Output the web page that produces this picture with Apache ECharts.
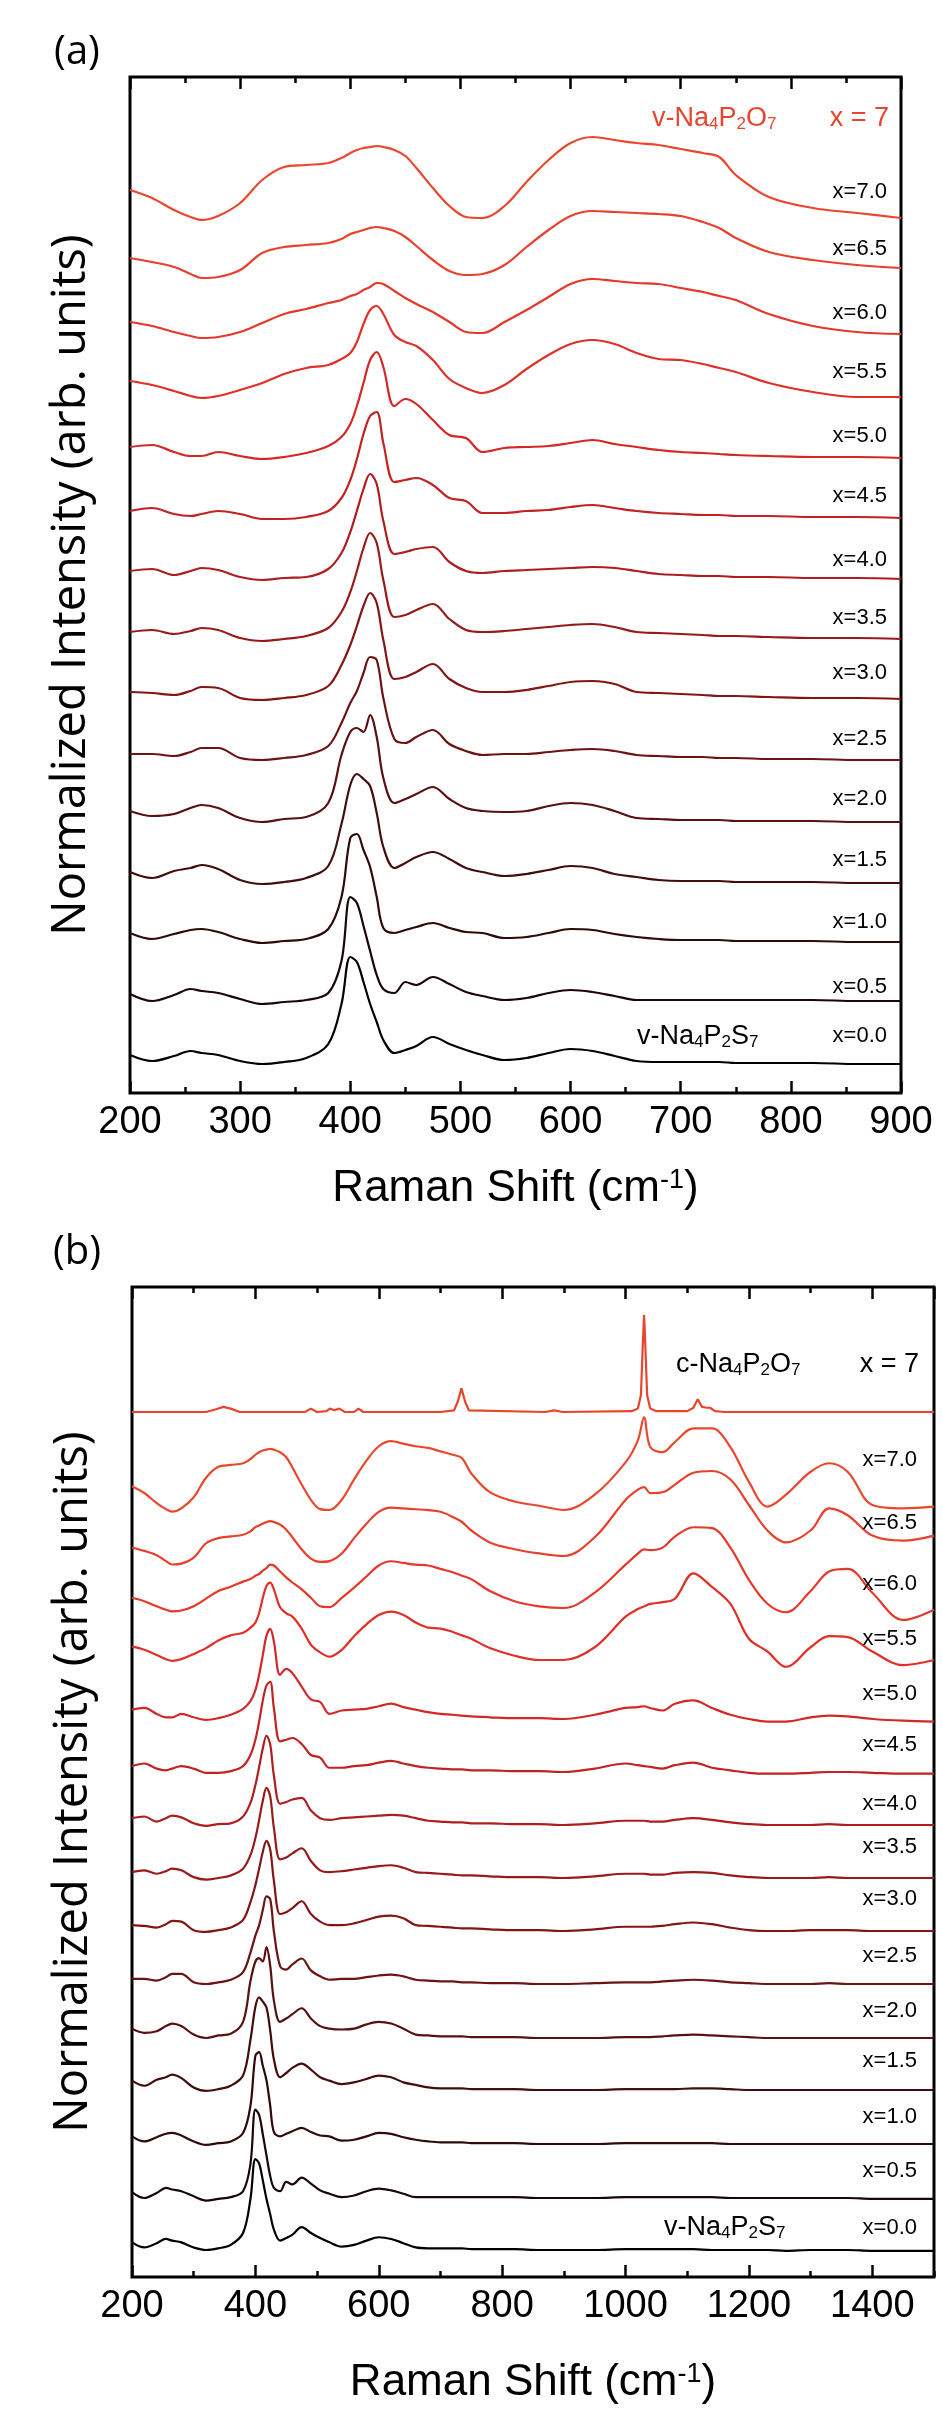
<!DOCTYPE html>
<html lang="en">
<head>
  <meta http-equiv="Content-Type" content="text/html; charset=UTF-8">
  <title>Raman spectra</title>
  <style>html, body { margin: 0; padding: 0; background: #fff; }</style>
</head>
<body>
  <div id="chart" style="width: 942px; height: 2433px;"></div>
  <script src="https://cdn.jsdelivr.net/npm/echarts@6.0.0/dist/echarts.min.js"></script>
  <script>
    // Raman shift grid (cm-1) shared by all glass spectra
    const ramanShift = [200, 220, 240, 255, 265, 280, 300, 320, 340, 360, 380, 392, 400, 406, 412, 418, 424, 430, 440, 450,
      460, 475, 490, 505, 520, 540, 560, 580, 600, 620, 640, 660, 680, 700, 720, 735, 750, 780, 820, 860, 900,
      950, 1000, 1020, 1030, 1040, 1060, 1080, 1110, 1140, 1170, 1200, 1230, 1260, 1300, 1330, 1360, 1400, 1450, 1500];

    const compositions = ['0.0', '0.5', '1.0', '1.5', '2.0', '2.5', '3.0', '3.5', '4.0', '4.5', '5.0', '5.5', '6.0', '6.5', '7.0'];

    // intensity above each spectrum's own level at 900 cm-1 (a.u.)
    const s00 = [9, 3, 8, 13, 11, 9, 3, 0, 2, 6, 20, 60, 107, 102, 82, 60, 42, 24, 11, 14, 18, 27, 20, 14, 9, 4, 6, 11, 15, 13, 8, 3, 2, 2, 2, 2, 1, 1, 1, 0, 0,
      0, 1, 1, 1, 1, 1, 1, 1, 0, 0, 0, 0, -1, 0, 0, 0, -1, -1, -1];
    const s05 = [7, 0, 6, 12, 10, 8, 2, -3, -1, 1, 8, 40, 104, 98, 75, 50, 26, 12, 8, 19, 16, 24, 17, 9, 5, 1, 3, 8, 11, 9, 5, 1, 1, 1, 1, 1, 1, 1, 1, 0, 0,
      0, 1, 1, 1, 1, 1, 1, 1, 1, 0, 0, 0, 0, 0, 0, 0, -1, -1, -1];
    const s10 = [9, 3, 8, 12, 13, 10, 3, -1, 1, 3, 13, 45, 104, 108, 92, 75, 45, 14, 9, 12, 15, 19, 14, 10, 9, 4, 5, 9, 13, 12, 8, 5, 3, 2, 2, 2, 1, 1, 1, 0, 0,
      0, 1, 1, 1, 1, 1, 1, 1, 1, 0, 0, 0, 0, 0, 0, 0, 0, 0, 0];
    const s15 = [11, 5, 12, 15, 18, 14, 3, -1, 1, 5, 17, 59, 98, 109, 104, 97, 70, 36, 15, 20, 26, 31, 24, 15, 11, 7, 9, 13, 17, 15, 9, 6, 3, 2, 2, 2, 1, 1, 1, 0, 0,
      0, 1, 1, 1, 1, 1, 1, 2, 2, 1, 0, 0, 0, 0, 0, 0, 0, 0, 0];
    const s20 = [11, 6, 8, 14, 17, 14, 4, 0, 3, 5, 19, 67, 90, 94, 90, 107, 85, 44, 19, 23, 28, 35, 23, 14, 11, 10, 11, 16, 19, 17, 11, 4, 3, 2, 2, 2, 1, 1, 1, 0, 0,
      0, 1, 1, 1, 1, 2, 3, 4, 3, 2, 1, 0, 0, 0, 0, 0, 0, 0, 0];
    const s25 = [6, 6, 4, 8, 12, 12, 2, 0, 2, 5, 14, 37, 57, 69, 87, 103, 100, 62, 21, 17, 23, 30, 16, 9, 5, 6, 6, 8, 10, 11, 9, 5, 4, 3, 3, 2, 2, 1, 1, 0, 0,
      1, 2, 2, 2, 2, 3, 4, 5, 4, 2, 1, 0, 0, 0, 1, 0, 0, 0, 0];
    const s30 = [7, 6, 4, 8, 12, 11, 1, -1, 1, 4, 13, 34, 54, 73, 93, 106, 96, 59, 20, 22, 27, 35, 20, 11, 7, 7, 9, 13, 17, 18, 15, 7, 6, 5, 4, 3, 3, 2, 1, 1, 0,
      2, 5, 5, 5, 5, 6, 8, 10, 8, 4, 1, 0, 0, 1, 1, 1, 0, 0, 0];
    const s35 = [7, 9, 5, 8, 11, 9, 1, -2, 0, 3, 11, 27, 47, 68, 91, 106, 96, 59, 22, 24, 29, 35, 20, 9, 7, 8, 10, 12, 14, 15, 12, 7, 6, 5, 4, 3, 3, 2, 1, 1, 0,
      2, 5, 5, 5, 4, 4, 6, 7, 6, 3, 1, 0, 0, 0, 1, 0, 0, 0, 0];
    const s40 = [8, 10, 4, 8, 11, 9, 2, -1, 1, 2, 10, 26, 47, 68, 90, 105, 95, 58, 25, 27, 30, 32, 17, 8, 6, 8, 9, 10, 11, 12, 11, 8, 5, 4, 3, 3, 2, 2, 1, 1, 0,
      2, 5, 5, 5, 4, 4, 6, 8, 6, 3, 1, 0, 0, 0, 1, 0, 0, 0, 0];
    const s45 = [7, 10, 4, 2, 4, 7, 4, -1, -1, 1, 7, 20, 38, 59, 84, 102, 106, 75, 36, 38, 40, 33, 20, 17, 5, 5, 7, 8, 11, 13, 10, 7, 5, 4, 3, 3, 2, 2, 1, 1, 0,
      4, 10, 8, 7, 6, 4, 8, 11, 5, 2, -1, -2, -2, -1, 0, 0, -1, -2, -2];
    const s50 = [11, 13, 6, 2, 2, 6, 2, -1, 1, 5, 12, 21, 34, 52, 75, 98, 106, 91, 52, 59, 54, 38, 23, 20, 6, 10, 11, 12, 15, 18, 14, 11, 8, 6, 5, 4, 3, 2, 1, 1, 0,
      5, 13, 14, 15, 13, 10, 18, 22, 13, 5, 0, -3, -3, 2, 4, 3, 0, -2, -3];
    const s55 = [16, 12, 6, 1, -1, 1, 7, 14, 23, 29, 32, 38, 44, 55, 73, 87, 91, 83, 62, 55, 51, 37, 18, 9, 4, 12, 28, 42, 53, 57, 53, 44, 38, 37, 33, 29, 25, 14, 5, 0, 0,
      15, 51, 60, 63, 66, 68, 72, 102, 86, 66, 25, 10, -8, 15, 28, 27, 10, -6, 0];
    const s60 = [12, 8, 2, -2, -4, -3, 2, 11, 20, 25, 31, 34, 38, 40, 44, 47, 51, 50, 43, 36, 30, 22, 12, 2, 1, 12, 24, 37, 50, 55, 53, 51, 50, 46, 42, 38, 34, 20, 8, 2, 0,
      18, 51, 64, 69, 68, 71, 84, 95, 94, 71, 33, 5, -5, 20, 43, 46, 18, -14, -2];
    const s65 = [10, 6, 1, -6, -10, -9, -2, 15, 21, 23, 25, 29, 34, 36, 38, 40, 41, 40, 37, 31, 22, 8, -3, -7, -6, 3, 21, 38, 52, 57, 56, 55, 54, 52, 46, 40, 30, 16, 8, 3, 0,
      22, 66, 78, 81, 74, 75, 84, 98, 100, 90, 60, 30, 16, 30, 56, 48, 24, 18, 24];
    const s70 = [28, 20, 8, 1, -2, 2, 15, 38, 51, 53, 55, 60, 65, 68, 70, 71, 72, 71, 68, 62, 50, 30, 12, 1, 0, 12, 36, 58, 75, 81, 78, 75, 73, 69, 65, 61, 43, 21, 10, 5, 0,
      18, 56, 82, 109, 74, 68, 80, 96, 96, 74, 33, 4, 18, 45, 55, 45, 6, 2, 4];
    const spectra = [s00, s05, s10, s15, s20, s25, s30, s35, s40, s45, s50, s55, s60, s65, s70];

    // vertical stacking of each spectrum (level at 900 cm-1)
    const offsetA = [29, 92, 151, 210, 271, 333, 394, 454, 514, 575, 635, 696, 759, 825, 875];
    const offsetB = [27, 79, 133, 187, 239, 293, 346, 399, 452, 505, 558, 617, 669, 721, 767];
    const scaleB = 0.85;

    // crystalline c-Na4P2O7 reference (panel b only)
    const crystalShift = [200, 320, 335, 348, 360, 375, 480, 490, 500, 515, 521, 528, 536, 545, 560, 567, 575, 700, 722, 728, 734, 740, 746,
      870, 884, 898, 1010, 1020, 1025, 1028, 1030, 1032, 1035, 1040, 1050, 1100, 1110, 1117, 1124, 1132, 1137, 1145, 1160, 1500];
    const crystalInt = [0, 0, 3, 6, 4, 0, 0, 4, 0, 1, 4, 2, 4, 0, 0, 4, 0, 0, 2, 12, 28, 12, 2,
      0, 2, 0, 1, 4, 20, 80, 114, 80, 20, 4, 1, 1, 5, 15, 6, 5, 5, 1, 0, 0];
    const crystalOffsetB = 865;

    const labelLiftA = [28, 14, 20, 23, 23, 21, 26, 21, 19, 22, 22, 25, 21, 19, 26];
    const labelLiftB = [23, 28, 27, 29, 27, 28, 32, 31, 21, 29, 28, 21, 26, 13, 47];

    const lineColors = ['#000000', '#1a0606', '#2e0a0a', '#430d0d', '#581010', '#6c1313', '#821616', '#981a1a',
      '#ae1e1e', '#c22222', '#d42826', '#e03028', '#e5382a', '#e8402c', '#ea472e'];
    const red = '#e8452d';
    const arial = 'Liberation Sans';

    const chart = echarts.init(document.getElementById('chart'));

    function tickAxis(gridIndex, position, max, interval, len, extra) {
      return Object.assign({
        type: 'value', gridIndex, position, min: 200, max, interval,
        axisLine: { show: false },
        splitLine: { show: false },
        axisTick: { show: true, inside: true, length: len, lineStyle: { color: '#000', width: 2.5 } },
        axisLabel: { show: false }
      }, extra || {});
    }

    const tickLabel = {
      show: true, fontSize: 38, fontFamily: arial, color: '#000', margin: 11, showMaxLabel: true,
      formatter: v => String(v)
    };
    const xName = {
      name: 'Raman Shift (cm{sup|-1})',
      nameLocation: 'middle',
      nameTextStyle: {
        fontFamily: arial, fontSize: 44, color: '#000',
        rich: { sup: { fontFamily: arial, fontSize: 27, lineHeight: 14, verticalAlign: 'top', color: '#000' } }
      }
    };
    const yName = {
      name: 'Normalized Intensity (arb. units)',
      nameLocation: 'middle',
      nameGap: 35,
      nameTextStyle: { fontFamily: 'Open Sans', fontSize: 47, color: '#000' }
    };

    const series = [];
    spectra.forEach((s, i) => {
      const label = {
        show: true, formatter: 'x=' + compositions[i], color: '#000', fontSize: 22, fontFamily: arial,
        align: 'right', verticalAlign: 'middle', distance: 0
      };
      series.push({
        type: 'line', xAxisIndex: 0, yAxisIndex: 0, silent: true,
        data: ramanShift.map((x, j) => [x, offsetA[i] + s[j]]).filter(p => p[0] <= 900),
        showSymbol: false, smooth: 0.35,
        lineStyle: { color: lineColors[i], width: 2.2 },
        endLabel: Object.assign({ offset: [-14, -labelLiftA[i]] }, label)
      });
      series.push({
        type: 'line', xAxisIndex: 4, yAxisIndex: 1, silent: true,
        data: ramanShift.map((x, j) => [x, offsetB[i] + scaleB * s[j]]),
        showSymbol: false, smooth: 0.35,
        lineStyle: { color: lineColors[i], width: 2.2 },
        endLabel: Object.assign({ offset: [-17, -labelLiftB[i]] }, label)
      });
    });
    series.push({
      type: 'line', xAxisIndex: 4, yAxisIndex: 1, silent: true,
      data: crystalShift.map((x, j) => [x, crystalOffsetB + scaleB * crystalInt[j]]),
      showSymbol: false, smooth: false,
      lineStyle: { color: red, width: 2.2 }
    });

    const sub = { fontFamily: arial, fontSize: 17, lineHeight: 10, verticalAlign: 'bottom' };
    function formula(text, x, y, color, align) {
      return {
        type: 'text', x, y, silent: true,
        style: { text, fill: color, fontFamily: arial, fontSize: 27, align: align || 'left', verticalAlign: 'middle', rich: { s: sub } }
      };
    }

    const option = {
      animation: false,
      backgroundColor: '#fff',
      grid: [
        { left: 130, top: 77, width: 771, height: 1016, show: true, borderColor: '#000', borderWidth: 3 },
        { left: 132, top: 1287, width: 802, height: 990, show: true, borderColor: '#000', borderWidth: 3 }
      ],
      xAxis: [
        tickAxis(0, 'bottom', 900, 100, 12, Object.assign({ axisLabel: tickLabel, nameGap: 74 }, xName)),
        tickAxis(0, 'bottom', 900, 50, 6),
        tickAxis(0, 'top', 900, 100, 12),
        tickAxis(0, 'top', 900, 50, 6),
        tickAxis(1, 'bottom', 1500, 200, 12, Object.assign({ axisLabel: Object.assign({}, tickLabel, { showMaxLabel: false }), nameGap: 84 }, xName)),
        tickAxis(1, 'bottom', 1500, 100, 6),
        tickAxis(1, 'top', 1500, 200, 12),
        tickAxis(1, 'top', 1500, 100, 6)
      ],
      yAxis: [
        Object.assign({ type: 'value', gridIndex: 0, min: 0, max: 1016, axisLine: { show: false }, axisTick: { show: false }, axisLabel: { show: false }, splitLine: { show: false } }, yName),
        Object.assign({ type: 'value', gridIndex: 1, min: 0, max: 990, axisLine: { show: false }, axisTick: { show: false }, axisLabel: { show: false }, splitLine: { show: false } }, yName)
      ],
      graphic: [
        { type: 'text', x: 77, y: 53, silent: true, style: { text: '(a)', fill: '#000', fontFamily: 'Open Sans', fontSize: 40, align: 'center', verticalAlign: 'middle' } },
        { type: 'text', x: 77, y: 1253, silent: true, style: { text: '(b)', fill: '#000', fontFamily: 'Open Sans', fontSize: 40, align: 'center', verticalAlign: 'middle' } },
        formula('v-Na{s|4}P{s|2}O{s|7}', 652, 119, red),
        formula('x = 7', 889, 119, red, 'right'),
        formula('v-Na{s|4}P{s|2}S{s|7}', 637, 1037, '#000'),
        formula('c-Na{s|4}P{s|2}O{s|7}', 676, 1365, '#000'),
        formula('x = 7', 919, 1365, '#000', 'right'),
        formula('v-Na{s|4}P{s|2}S{s|7}', 664, 2228, '#000')
      ],
      series
    };
    chart.setOption(option);
  </script>
</body>
</html>
